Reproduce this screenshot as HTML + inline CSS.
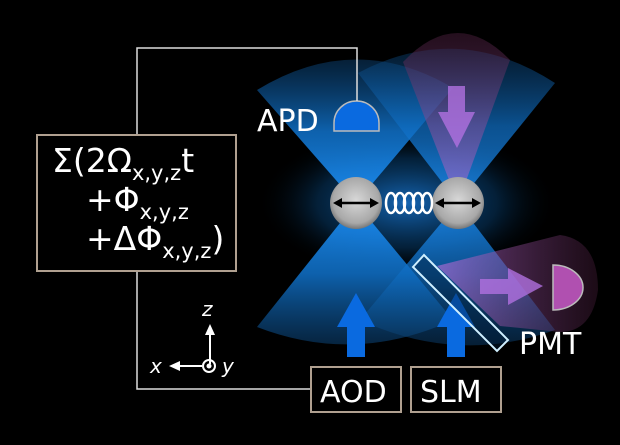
<!DOCTYPE html>
<html><head><style>
html,body{margin:0;padding:0;background:#000;}
svg{display:block}
text{font-family:"DejaVu Sans","Liberation Sans",sans-serif;fill:#fff}
</style></head><body>
<svg width="620" height="445" viewBox="0 0 620 445" xmlns="http://www.w3.org/2000/svg">
<defs>
<radialGradient id="glow" cx="0.5" cy="0.5" r="0.5">
<stop offset="0" stop-color="#1e90ff" stop-opacity="0.7"/>
<stop offset="0.6" stop-color="#0a5aa0" stop-opacity="0.35"/>
<stop offset="1" stop-color="#000" stop-opacity="0"/>
</radialGradient>
<linearGradient id="cu" x1="0" y1="1" x2="0" y2="0">
<stop offset="0" stop-color="#1e94ff"/><stop offset="0.5" stop-color="#0f6cc0"/><stop offset="1" stop-color="#0a3a66" stop-opacity="0.6"/>
</linearGradient>
<linearGradient id="cd" x1="0" y1="0" x2="0" y2="1">
<stop offset="0" stop-color="#1e94ff"/><stop offset="0.5" stop-color="#0f6cc0"/><stop offset="1" stop-color="#0a3a66" stop-opacity="0.7"/>
</linearGradient>
<linearGradient id="mg" x1="0" y1="1" x2="0" y2="0">
<stop offset="0" stop-color="#c070e0" stop-opacity="0.55"/><stop offset="1" stop-color="#502040" stop-opacity="0.45"/>
</linearGradient>
<linearGradient id="mg2" x1="0" y1="0" x2="1" y2="0">
<stop offset="0" stop-color="#c070e0" stop-opacity="0.6"/><stop offset="1" stop-color="#502040" stop-opacity="0.35"/>
</linearGradient>
<radialGradient id="ion" cx="0.5" cy="0.45" r="0.55">
<stop offset="0" stop-color="#d8d8d8"/><stop offset="0.8" stop-color="#a8a8a8"/><stop offset="1" stop-color="#777"/>
</radialGradient>
</defs>
<ellipse cx="407" cy="203" rx="150" ry="75" fill="url(#glow)"/>
<path d="M257,90 Q355,30 453,88 L356,203 Z" fill="url(#cu)" opacity="0.9"/>
<path d="M257,327 Q355,365 453,320 L356,203 Z" fill="url(#cd)" opacity="0.9"/>
<path d="M358,73 Q458,20 555,83 L458,203 Z" fill="url(#cu)" opacity="0.75"/>
<path d="M360,320 Q458,365 555,330 L458,203 Z" fill="url(#cd)" opacity="0.75"/>
<path d="M403,62 Q457,5 510,60 L458,203 Z" fill="url(#mg)"/>
<path d="M437,266 L560,235 Q598,240 598,290 Q592,332 560,332 L500,326 Z" fill="url(#mg2)"/>
<circle cx="356" cy="203" r="26" fill="url(#ion)"/>
<circle cx="458" cy="203" r="26" fill="url(#ion)"/>
<g stroke="#000" stroke-width="2.5">
<line x1="338" y1="203" x2="374" y2="203"/>
<line x1="440" y1="203" x2="476" y2="203"/>
</g>
<g fill="#000">
<path d="M333,203 l9,-5 v10z"/><path d="M379,203 l-9,-5 v10z"/>
<path d="M435,203 l9,-5 v10z"/><path d="M481,203 l-9,-5 v10z"/>
</g>
<g fill="none" stroke="#fff" stroke-width="2.5">
<ellipse cx="391" cy="203" rx="5" ry="10"/>
<ellipse cx="400" cy="203" rx="5" ry="10"/>
<ellipse cx="409" cy="203" rx="5" ry="10"/>
<ellipse cx="418" cy="203" rx="5" ry="10"/>
<ellipse cx="427" cy="203" rx="5" ry="10"/>
</g>
<path d="M448,86 h17 v26 h10 l-18,36 l-19,-36 h10 z" fill="#b070e0" opacity="0.8"/>
<path d="M480,279 h28 v-11 l35,18 l-35,19 v-11 h-28 z" fill="#b070e0" opacity="0.8"/>
<path d="M347,357 v-30 h-10 l19,-34 l19,34 h-10 v30 z" fill="#0a6ae0"/>
<path d="M447,357 v-30 h-10 l19,-34 l19,34 h-10 v30 z" fill="#0a6ae0"/>
<path d="M413,267 L424,255 L508,340 L497,351 Z" fill="rgba(0,30,60,0.4)" stroke="#cfefff" stroke-width="2"/>
<path d="M334,131 v-8 a22.5,22 0 0 1 45,0 v8 z" fill="#0a6ae0" stroke="#bbb" stroke-width="1.5"/>
<path d="M553,265 a30,22.5 0 0 1 0,45 z" fill="#b050b0" stroke="#bbb" stroke-width="1.5"/>
<path d="M137,135 V48 H357 V101" fill="none" stroke="#ddd" stroke-width="1.5"/>
<path d="M137,271 V389 H311" fill="none" stroke="#ddd" stroke-width="1.5"/>
<rect x="37" y="135" width="199" height="136" fill="#000" stroke="#b0a090" stroke-width="2"/>
<text x="52" y="172" font-size="33">Σ(2Ω<tspan font-size="21" dy="8">x,y,z</tspan><tspan dy="-8">t</tspan></text>
<text x="86" y="211" font-size="33">+Φ<tspan font-size="21" dy="8">x,y,z</tspan></text>
<text x="86" y="250" font-size="33">+ΔΦ<tspan font-size="21" dy="8">x,y,z</tspan><tspan dy="-8">)</tspan></text>
<rect x="311" y="367" width="90" height="45" fill="#000" stroke="#b0a090" stroke-width="2"/>
<rect x="411" y="367" width="90" height="45" fill="#000" stroke="#b0a090" stroke-width="2"/>
<text x="320" y="402" font-size="30">AOD</text>
<text x="420" y="402" font-size="30">SLM</text>
<text x="257" y="131" font-size="30">APD</text>
<text x="519" y="354" font-size="30">PMT</text>
<line x1="210" y1="364" x2="210" y2="330" stroke="#fff" stroke-width="2"/>
<path d="M210,324 l-5,11 h10z" fill="#fff"/>
<line x1="202" y1="366" x2="176" y2="366" stroke="#fff" stroke-width="2"/>
<path d="M169,366 l11,-5 v10z" fill="#fff"/>
<circle cx="209" cy="366" r="6" fill="none" stroke="#fff" stroke-width="2"/>
<circle cx="209" cy="366" r="2.5" fill="#fff"/>
<text x="202" y="316" font-size="20" font-style="italic">z</text>
<text x="150" y="373" font-size="20" font-style="italic">x</text>
<text x="222" y="373" font-size="20" font-style="italic">y</text>
</svg>
</body></html>
